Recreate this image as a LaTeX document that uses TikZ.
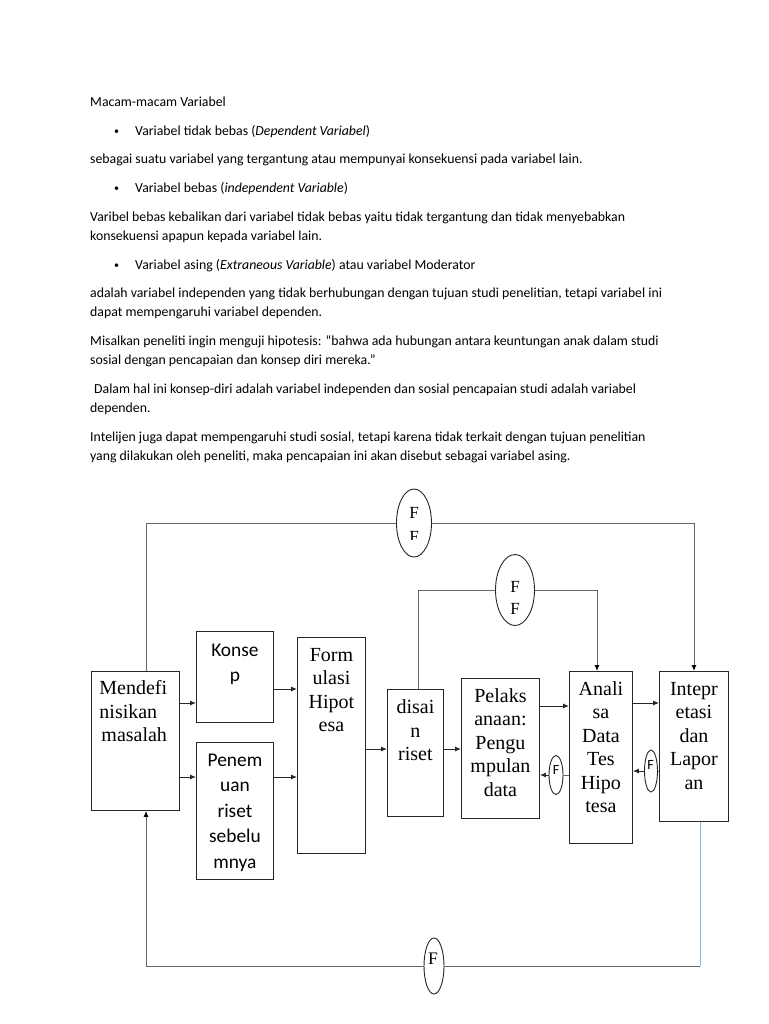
\documentclass[tikz,border=0pt]{standalone}
\usepackage{fontspec}
\setmainfont{Carlito}
\newfontfamily\timesfont{Liberation Serif}
\usetikzlibrary{arrows.meta,shapes.geometric}

\definecolor{lineblue}{RGB}{142,180,227}

\begin{document}
\begin{tikzpicture}[x=1pt,y=-1pt,
  para/.style={anchor=base west,inner sep=0pt,font=\fontsize{13.8}{16.5}\selectfont},
  dot/.style={anchor=base west,inner sep=0pt,font=\fontsize{10}{12}\selectfont},
  box/.style={draw=black!85,line width=0.9pt,inner sep=0pt,anchor=north west},
  sbox/.style={box,font=\timesfont\fontsize{20}{23.5}\selectfont},
  cbox/.style={box,font=\fontsize{19.4}{25.5}\selectfont},
  oval/.style={draw=black!85,line width=0.9pt,ellipse,inner sep=0pt},
  ftext/.style={inner sep=0pt,align=center,font=\timesfont\fontsize{17}{24}\selectfont},
  fsmall/.style={inner sep=0pt,font=\fontsize{14}{15}\selectfont},
  link/.style={draw=black!60,line width=1pt},
  blueline/.style={draw=lineblue,line width=1pt},
  arr/.style={link,-{Latex[length=6pt,width=5pt,color=black]}},
  shortarr/.style={draw=black!85,line width=1pt,-{Latex[length=6pt,width=5pt]}}
]
\fill[white] (0,0) rectangle (768,1024);
\useasboundingbox (0,0) rectangle (768,1024);

% text above the diagram
\node[para] (t1) at (90,106.7) {Macam-macam Variabel};
\node[dot] (b1) at (114,134.3) {•};
\node[para] (t2) at (135,135.3) {Variabel tidak bebas (\textit{Dependent Variabel})};
\node[para] (t3) at (90,163.9) {sebagai suatu variabel yang tergantung atau mempunyai konsekuensi pada variabel lain.};
\node[dot] (b2) at (114,191.5) {•};
\node[para] (t4) at (135,192.5) {Variabel bebas (\textit{independent Variable})};
\node[para] (t5) at (90,221.1) {Varibel bebas kebalikan dari variabel tidak bebas yaitu tidak tergantung dan tidak menyebabkan};
\node[para] (t6) at (90,240.4) {konsekuensi apapun kepada variabel lain.};
\node[dot] (b3) at (114,268) {•};
\node[para] (t7) at (135,269) {Variabel asing (\textit{Extraneous Variable}) atau variabel Moderator};
\node[para] (t8) at (90,297.6) {adalah variabel independen yang tidak berhubungan dengan tujuan studi penelitian, tetapi variabel ini};
\node[para] (t9) at (90,316.9) {dapat mempengaruhi variabel dependen.};
\node[para] (t10) at (90,345.5) {Misalkan peneliti ingin menguji hipotesis: “bahwa ada hubungan antara keuntungan anak dalam studi};
\node[para] (t11) at (90,364.8) {sosial dengan pencapaian dan konsep diri mereka.”};
\node[para] (t12) at (94,393.4) {Dalam hal ini konsep-diri adalah variabel independen dan sosial pencapaian studi adalah variabel};
\node[para] (t13) at (90,412.7) {dependen.};
\node[para] (t14) at (90,441.3) {Intelijen juga dapat mempengaruhi studi sosial, tetapi karena tidak terkait dengan tujuan penelitian};
\node[para] (t15) at (90,460.6) {yang dilakukan oleh peneliti, maka pencapaian ini akan disebut sebagai variabel asing.};

% boxes
\node[sbox] (mendefi) at (91,671) {\parbox[c][139pt][t]{88pt}{\raggedright\leftskip=8pt\vspace*{6.85pt}\strut Mendefi\\nisikan\\\hspace*{2pt}masalah}};
\node[cbox] (konsep) at (196,631) {\parbox[c][91pt][t]{77pt}{\centering\vspace*{6.85pt}\strut Konse\\p}};
\node[cbox] (penem) at (196,742) {\parbox[c][137pt][t]{77pt}{\centering\vspace*{6.15pt}\strut Penem\\uan\\riset\\sebelu\\mnya}};
\node[sbox] (form) at (297,637) {\parbox[c][216pt][t]{68pt}{\centering\vspace*{7.55pt}\strut Form\\ulasi\\Hipot\\esa}};
\node[sbox] (disain) at (387,689) {\parbox[c][127pt][t]{56pt}{\centering\vspace*{7.85pt}\strut disai\\n\\riset}};
\node[sbox] (pelaks) at (461,678) {\parbox[c][140pt][t]{78pt}{\centering\vspace*{7.25pt}\strut Pelaks\\anaan:\\Pengu\\mpulan\\data}};
\node[sbox] (anali) at (569,671) {\parbox[c][172pt][t]{63pt}{\centering\vspace*{7.55pt}\strut Anali\\sa\\Data\\Tes\\Hipo\\tesa}};
\node[sbox] (intepr) at (659,671) {\parbox[c][150pt][t]{69pt}{\centering\vspace*{7.55pt}\strut Intepr\\etasi\\dan\\Lapor\\an}};

% F ovals
\node[oval,minimum width=35pt,minimum height=68pt] (ff1) at (414,523) {};
\begin{scope}
\clip (396,489) rectangle (432,539);
\node[ftext] (ff1t) at (414,525.4) {F\\F};
\end{scope}
\node[oval,minimum width=39pt,minimum height=71pt] (ff2) at (515,590) {};
\node[ftext,font=\timesfont\fontsize{17}{22.3}\selectfont] (ff2t) at (515,598.2) {F\\F};
\node[oval,minimum width=14pt,minimum height=39pt] (f1) at (556,775) {};
\node[fsmall] (f1t) at (556,769.5) {F};
\node[oval,minimum width=13pt,minimum height=42pt] (f2) at (651,771) {};
\node[fsmall] (f2t) at (650.7,765.5) {F};
\node[oval,minimum width=20pt,minimum height=56pt] (fb) at (434,966) {};
\node[ftext,font=\timesfont\fontsize{17.6}{20}\selectfont] (fbt) at (433,959) {F};

% loops over the top
\draw[link] (146,0 |- mendefi.north) |- (ff1.west);
\draw[arr] (ff1.east) -| (694,0 |- intepr.north);
\draw[link] (418,0 |- disain.north) |- (ff2.west);
\draw[arr] (ff2.east) -| (597,0 |- anali.north);

% arrows between boxes
\draw[shortarr] (mendefi.east |- 0,703) -- (konsep.west |- 0,703);
\draw[shortarr] (mendefi.east |- 0,777) -- (penem.west |- 0,777);
\draw[shortarr] (konsep.east |- 0,689) -- (form.west |- 0,689);
\draw[shortarr] (penem.east |- 0,777) -- (form.west |- 0,777);
\draw[shortarr] (form.east |- 0,749) -- (disain.west |- 0,749);
\draw[shortarr] (disain.east |- 0,749) -- (pelaks.west |- 0,749);
\draw[shortarr] (pelaks.east |- 0,706) -- (anali.west |- 0,706);
\draw[shortarr] (anali.east |- 0,703) -- (intepr.west |- 0,703);

% back arrows through the small F
\draw[link] (anali.west |- f1) -- (f1.east);
\draw[shortarr] (f1.west) -- (pelaks.east |- f1);
\draw[link] (intepr.west |- f2) -- (f2.east);
\draw[shortarr] (f2.west) -- (anali.east |- f2);

% loop back under
\coordinate (corner) at (700,0 |- fb);
\draw[blueline] (700,0 |- intepr.south) -- (corner);
\draw[link] (corner) -- (fb.east);
\draw[arr] (fb.west) -| (146,0 |- mendefi.south);
\end{tikzpicture}
\end{document}
